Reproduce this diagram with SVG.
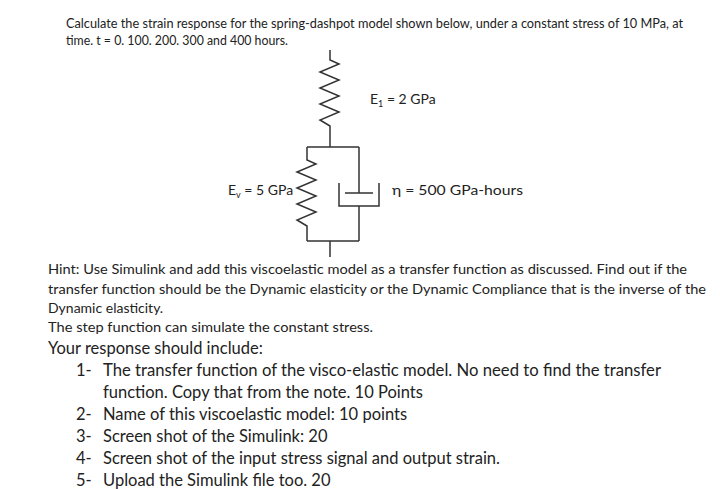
<svg xmlns="http://www.w3.org/2000/svg" width="720" height="489" viewBox="0 0 720 489">
<style>
text{font-family:Lato,"Open Sans",sans-serif;fill:#222}
.s{font-size:12.5px}.m{font-size:14px}.l{font-size:16.5px}.d{font-size:14px}
.w{fill:none;stroke:#333;stroke-width:1.5;stroke-linejoin:miter}
</style>
<rect width="720" height="489" fill="#fff"/>
<g id="question">
<text class="s" x="66" y="28" textLength="617" lengthAdjust="spacingAndGlyphs">Calculate the strain response for the spring-dashpot model shown below, under a constant stress of 10 MPa, at</text>
<text class="s" x="66" y="45" textLength="222" lengthAdjust="spacingAndGlyphs">time. t = 0. 100. 200. 300 and 400 hours.</text>
</g>
<g id="connectors">
<path class="w" d="M330,50 V60 L339,64 L320,72 L339,80 L320,88 L339,96 L320,104 L339,112 L320,120 L330,126 V147"/>
<path class="w" d="M307,147 H359 M307,241 H359 M330,241 V257 M359,147 V193 M359,206 V241"/>
</g>
<g id="spring-E1">
<text class="d" x="370" y="104">E<tspan font-size="9" dy="3">1</tspan><tspan dy="-3"> = 2 GPa</tspan></text>
</g>
<g id="spring-Ev">
<path class="w" d="M307,147 V160 L316,164 L297,172 L316,180 L297,188 L316,196 L297,204 L316,212 L297,220 L307,226 V241"/>
<text class="d" x="228" y="195" font-size="13">E<tspan font-size="9" dy="3">v</tspan><tspan dy="-3"> = 5 GPa</tspan></text>
</g>
<g id="dashpot">
<path class="w" d="M339,183 V206 H379 V183 M345,193 H373"/>
<text class="d" x="392" y="195" textLength="131" lengthAdjust="spacingAndGlyphs">η = 500 GPa-hours</text>
</g>
<g id="hint">
<text class="m" x="48" y="274" textLength="639" lengthAdjust="spacingAndGlyphs">Hint: Use Simulink and add this viscoelastic model as a transfer function as discussed. Find out if the</text>
<text class="m" x="48" y="294" textLength="658" lengthAdjust="spacingAndGlyphs">transfer function should be the Dynamic elasticity or the Dynamic Compliance that is the inverse of the</text>
<text class="m" x="48" y="313">Dynamic elasticity.</text>
<text class="m" x="48" y="332" textLength="325" lengthAdjust="spacingAndGlyphs">The step function can simulate the constant stress.</text>
</g>
<g id="response">
<text class="l" x="48" y="354">Your response should include:</text>
<text class="l" x="76" y="376">1-</text><text class="l" x="103" y="376" textLength="558" lengthAdjust="spacingAndGlyphs">The transfer function of the visco-elastic model. No need to find the transfer</text>
<text class="l" x="103" y="398">function. Copy that from the note. 10 Points</text>
<text class="l" x="76" y="420">2-</text><text class="l" x="103" y="420">Name of this viscoelastic model: 10 points</text>
<text class="l" x="76" y="442">3-</text><text class="l" x="103" y="442">Screen shot of the Simulink: 20</text>
<text class="l" x="76" y="464">4-</text><text class="l" x="103" y="464">Screen shot of the input stress signal and output strain.</text>
<text class="l" x="76" y="486">5-</text><text class="l" x="103" y="486">Upload the Simulink file too. 20</text>
</g>
</svg>
